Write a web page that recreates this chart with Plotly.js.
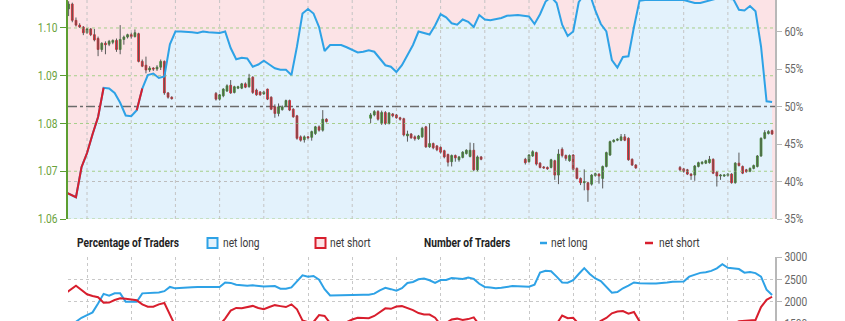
<!DOCTYPE html>
<html><head><meta charset="utf-8">
<script src="https://cdn.plot.ly/plotly-3.0.1.min.js"></script>
<style>html,body{margin:0;padding:0;background:#fff;overflow:hidden}#chart{width:845px;height:391px}</style>
</head><body><div id="chart"></div>
<script>
// ---------- DATA ----------
// 4-hour candle sessions: [first candle time (UTC), number of candles]
const candleSessions = [['2023-05-08T04:00Z',29],['2023-05-14T20:00Z',31],['2023-05-21T20:00Z',31],['2023-05-28T20:00Z',31],['2023-06-04T20:00Z',26]];
const candleOpen = [
1.1040,1.1050,1.1016,1.1006,1.1002,1.0990,1.0998,1.0986,1.0978,1.0955,1.0968,1.0966,1.0970,1.0974,1.0955,1.0976,1.0981,1.0986,1.0982,1.0988,1.0930,1.0922,1.0912,1.0916,1.0914,1.0918,1.0930,1.0864,1.0855,
1.0863,1.0851,1.0858,1.0868,1.0880,1.0865,1.0874,1.0874,1.0883,1.0877,1.0897,1.0870,1.0866,1.0862,1.0872,1.0855,1.0835,1.0821,1.0829,1.0837,1.0848,1.0830,1.0816,1.0772,1.0766,1.0772,1.0771,1.0779,1.0793,1.0786,1.0809,
1.0811,1.0818,1.0825,1.0800,1.0823,1.0800,1.0820,1.0818,1.0812,1.0810,1.0774,1.0778,1.0772,1.0768,1.0772,1.0793,1.0751,1.0758,1.0753,1.0750,1.0743,1.0735,1.0720,1.0733,1.0724,1.0729,1.0737,1.0731,1.0744,1.0703,1.0730,
1.0725,1.0720,1.0732,1.0739,1.0717,1.0709,1.0708,1.0708,1.0722,1.0692,1.0746,1.0733,1.0722,1.0734,1.0706,1.0685,1.0676,1.0676,1.0673,1.0691,1.0694,1.0685,1.0710,1.0734,1.0762,1.0765,1.0765,1.0772,1.0769,1.0725,1.0713,
1.0708,1.0705,1.0703,1.0694,1.0692,1.0710,1.0716,1.0717,1.0718,1.0725,1.0698,1.0690,1.0690,1.0691,1.0694,1.0676,1.0717,1.0710,1.0703,1.0700,1.0706,1.0710,1.0732,1.0769,1.0779,1.0785];
const candleHigh = [
1.1056,1.1053,1.1022,1.1010,1.1004,1.1000,1.1000,1.0998,1.0982,1.0970,1.0972,1.0975,1.0976,1.0978,1.1006,1.0984,1.0988,1.0990,1.0997,1.0990,1.0934,1.0940,1.0920,1.0918,1.0922,1.0934,1.0932,1.0866,1.0857,
1.0866,1.0862,1.0874,1.0882,1.0891,1.0879,1.0879,1.0885,1.0886,1.0904,1.0899,1.0873,1.0868,1.0868,1.0873,1.0857,1.0840,1.0842,1.0838,1.0850,1.0850,1.0832,1.0818,1.0775,1.0775,1.0774,1.0785,1.0795,1.0796,1.0828,1.0811,
1.0822,1.0828,1.0828,1.0827,1.0826,1.0824,1.0822,1.0820,1.0814,1.0812,1.0785,1.0780,1.0775,1.0776,1.0793,1.0795,1.0800,1.0760,1.0755,1.0752,1.0745,1.0737,1.0735,1.0735,1.0732,1.0742,1.0746,1.0760,1.0759,1.0733,1.0732,
1.0728,1.0736,1.0744,1.0741,1.0719,1.0711,1.0710,1.0726,1.0724,1.0746,1.0750,1.0735,1.0735,1.0736,1.0708,1.0687,1.0704,1.0678,1.0694,1.0697,1.0696,1.0712,1.0741,1.0764,1.0767,1.0769,1.0778,1.0778,1.0771,1.0727,1.0715,
1.0711,1.0707,1.0705,1.0696,1.0713,1.0720,1.0721,1.0724,1.0732,1.0727,1.0700,1.0694,1.0694,1.0696,1.0696,1.0719,1.0739,1.0712,1.0705,1.0708,1.0714,1.0734,1.0771,1.0786,1.0786,1.0787];
const candleLow = [
1.1025,1.1012,1.1003,1.1000,1.0985,1.0988,1.0983,1.0972,1.0941,1.0950,1.0945,1.0962,1.0966,1.0950,1.0945,1.0965,1.0978,1.0978,1.0980,1.0928,1.0918,1.0905,1.0908,1.0910,1.0910,1.0912,1.0860,1.0852,1.0850,
1.0848,1.0848,1.0855,1.0866,1.0862,1.0863,1.0872,1.0872,1.0874,1.0875,1.0862,1.0858,1.0858,1.0860,1.0849,1.0828,1.0812,1.0815,1.0827,1.0835,1.0826,1.0812,1.0766,1.0762,1.0760,1.0767,1.0764,1.0776,1.0783,1.0783,1.0802,
1.0801,1.0815,1.0806,1.0797,1.0797,1.0798,1.0813,1.0810,1.0806,1.0773,1.0762,1.0768,1.0764,1.0766,1.0770,1.0749,1.0749,1.0746,1.0742,1.0737,1.0727,1.0710,1.0710,1.0720,1.0720,1.0727,1.0735,1.0729,1.0700,1.0700,1.0723,
1.0714,1.0718,1.0730,1.0712,1.0706,1.0705,1.0703,1.0706,1.0682,1.0673,1.0729,1.0722,1.0720,1.0702,1.0683,1.0671,1.0660,1.0636,1.0670,1.0689,1.0674,1.0664,1.0708,1.0732,1.0760,1.0763,1.0763,1.0763,1.0722,1.0711,1.0705,
1.0700,1.0697,1.0692,1.0682,1.0680,1.0708,1.0714,1.0715,1.0716,1.0694,1.0668,1.0682,1.0688,1.0689,1.0674,1.0674,1.0710,1.0694,1.0697,1.0698,1.0704,1.0708,1.0730,1.0767,1.0777,1.0776];
const candleClose = [
1.1050,1.1016,1.1006,1.1002,1.0990,1.0998,1.0986,1.0975,1.0955,1.0968,1.0965,1.0972,1.0974,1.0955,1.0976,1.0981,1.0986,1.0982,1.0990,1.0930,1.0920,1.0912,1.0916,1.0914,1.0918,1.0930,1.0864,1.0855,1.0852,
1.0851,1.0860,1.0872,1.0879,1.0864,1.0877,1.0877,1.0883,1.0876,1.0895,1.0865,1.0860,1.0860,1.0866,1.0851,1.0830,1.0821,1.0835,1.0835,1.0848,1.0828,1.0814,1.0769,1.0765,1.0772,1.0770,1.0783,1.0793,1.0786,1.0809,1.0804,
1.0818,1.0825,1.0809,1.0823,1.0800,1.0822,1.0816,1.0812,1.0809,1.0776,1.0778,1.0770,1.0768,1.0774,1.0790,1.0751,1.0758,1.0749,1.0745,1.0740,1.0730,1.0719,1.0733,1.0728,1.0730,1.0740,1.0744,1.0744,1.0703,1.0730,1.0725,
1.0718,1.0734,1.0741,1.0715,1.0708,1.0707,1.0705,1.0724,1.0692,1.0736,1.0733,1.0727,1.0733,1.0704,1.0685,1.0676,1.0678,1.0661,1.0692,1.0695,1.0690,1.0710,1.0739,1.0762,1.0765,1.0767,1.0772,1.0765,1.0724,1.0713,1.0707,
1.0703,1.0700,1.0694,1.0691,1.0711,1.0718,1.0719,1.0722,1.0725,1.0696,1.0690,1.0692,1.0692,1.0694,1.0676,1.0717,1.0712,1.0696,1.0699,1.0706,1.0712,1.0732,1.0769,1.0781,1.0783,1.0778];

// Sentiment series, sampled every 6 hours from sentStart
const sentStart = '2023-05-08T00:00Z';
const pctLong = [
38.6,38.3,37.9,41.9,43.8,46.3,48.6,52.5,52.4,51.8,
50.5,48.8,48.7,49.5,52.4,54.2,54.4,53.8,54.0,58.3,
60.0,60.0,60.0,59.9,59.8,60.0,59.9,59.9,59.8,60.0,
57.8,56.3,56.5,56.4,55.3,55.6,56.1,55.6,55.1,54.9,
54.9,54.2,58.0,62.4,63.0,62.4,60.6,57.4,58.2,58.2,
58.2,57.9,57.5,57.2,57.3,57.5,57.3,56.4,55.5,55.3,
54.6,55.5,56.8,58.2,60.0,59.8,59.6,60.8,62.3,61.9,
61.1,60.9,61.6,61.3,60.6,62.2,61.6,61.5,61.6,61.8,
62.1,62.2,62.2,62.1,62.0,61.0,62.3,64.0,64.6,63.8,
60.9,59.4,60.0,63.9,65.0,65.0,62.8,61.0,60.0,56.2,
55.2,56.6,56.7,60.6,64.1,64.2,64.2,64.1,64.1,64.1,
64.1,64.1,64.2,64.0,63.8,63.8,64.0,64.3,64.4,64.4,
64.4,64.3,62.9,62.8,63.4,62.7,58.0,50.7,50.6];
// periods where the percentage line is drawn red
const redSpans = [['2023-05-08T00:00Z','2023-05-09T18:00Z'],['2023-05-11T06:00Z','2023-05-11T12:00Z']];
const tradersLong = [
1400,1450,1550,1640,1700,1760,1960,2175,2135,2186,
2186,1998,1998,1998,2186,2190,2198,2205,2235,2330,
2298,2310,2318,2322,2326,2327,2327,2327,2327,2430,
2420,2380,2368,2357,2366,2345,2340,2345,2350,2290,
2290,2320,2450,2590,2558,2574,2490,2280,2140,2145,
2148,2148,2150,2152,2153,2155,2180,2255,2310,2280,
2245,2300,2420,2440,2500,2520,2480,2420,2484,2484,
2530,2520,2507,2540,2510,2400,2330,2315,2300,2310,
2330,2350,2345,2340,2335,2380,2650,2690,2680,2560,
2430,2424,2480,2620,2750,2620,2520,2460,2330,2200,
2215,2300,2360,2430,2415,2405,2405,2408,2412,2428,
2445,2446,2450,2560,2610,2645,2660,2690,2745,2840,
2760,2740,2730,2650,2665,2640,2560,2270,2148];
const tradersShort = [
2180,2260,2357,2260,2165,2126,2100,1975,1980,2036,
2074,2064,2055,2030,1940,1886,1886,1940,1970,1700,
1450,1420,1420,1430,1430,1440,1440,1450,1480,1620,
1800,1860,1852,1875,1905,1860,1830,1880,1922,1900,
1880,1940,1830,1580,1540,1545,1700,1680,1520,1450,
1470,1540,1600,1639,1635,1628,1680,1760,1850,1840,
1890,1900,1860,1812,1745,1715,1712,1640,1480,1520,
1600,1620,1590,1610,1650,1480,1400,1380,1370,1360,
1360,1370,1380,1390,1400,1420,1440,1460,1480,1500,
1690,1630,1640,1500,1420,1440,1480,1570,1635,1740,
1780,1790,1730,1770,1560,1440,1420,1410,1400,1400,
1400,1410,1420,1430,1440,1440,1450,1450,1460,1470,
1480,1500,1560,1570,1575,1590,1880,2040,2110];

const gridDates = ['2023-05-09','2023-05-11','2023-05-13','2023-05-15','2023-05-17','2023-05-19','2023-05-21','2023-05-23','2023-05-25','2023-05-27','2023-05-29','2023-05-31','2023-06-01','2023-06-03','2023-06-05','2023-06-07'];
const priceTicks = [1.06,1.07,1.08,1.09,1.10];
const pctTicks = [35,40,45,50,55,60];
const countTicks = [0,500,1000,1500,2000,2500,3000];

// ---------- BUILD ----------
const X_RANGE = ['2023-05-08 03:20','2023-06-09 03:10'];
const PRICE_RANGE = [1.06, 1.10586];
const PCT_RANGE = [35, 64.2];
const FONT = 'Roboto, "Noto Sans", sans-serif';
const BLUE = '#2ea2e6', RED = '#d81e2d', GREEN = '#3f8c2c', CRED = '#d9252d';
const LBLUE = '#e3f2fc', PINK = '#fce3e6';

const fmt = ms => new Date(ms).toISOString().slice(0,16).replace('T',' ');
const H4 = 4*3600e3, H6 = 6*3600e3;
const candleTimes = [];
candleSessions.forEach(([s,n]) => { const t0 = Date.parse(s); for (let k=0;k<n;k++) candleTimes.push(fmt(t0+k*H4)); });
const s0 = Date.parse(sentStart);
const sentMs = pctLong.map((_,i)=>s0+i*H6);
const sentTimes = sentMs.map(fmt);
const inRed = ms => redSpans.some(([a,b]) => ms>=Date.parse(a) && ms<=Date.parse(b));
const pctRed = pctLong.map((v,i)=> inRed(sentMs[i]) ? v : null);

const wx=[], wy=[];
candleTimes.forEach((t,i)=>{ wx.push(t,t,null); wy.push(candleLow[i],candleHigh[i],null); });
const vgx=[], vgy=[];
gridDates.forEach(d=>{ vgx.push(d,d,null); vgy.push(PRICE_RANGE[0],PRICE_RANGE[1],null); });
const hgx=[], hgy=[];
priceTicks.forEach(p=>{ hgx.push(X_RANGE[0],X_RANGE[1],null); hgy.push(p,p,null); });

const traces = [
  {type:'scatter',mode:'lines',x:sentTimes,y:pctLong,xaxis:'x',yaxis:'y',fill:'tozeroy',fillcolor:LBLUE,line:{width:0},hoverinfo:'skip'},
  {type:'scatter',mode:'lines',x:X_RANGE,y:[40,40],xaxis:'x',yaxis:'y',line:{color:'#bdbdbd',width:1,dash:'dot'},hoverinfo:'skip'},
  {type:'scatter',mode:'lines',x:X_RANGE,y:[50,50],xaxis:'x',yaxis:'y',line:{color:'#6b6b6b',width:1.6,dash:'dashdot'},hoverinfo:'skip'},
  {type:'scatter',mode:'lines',x:vgx,y:vgy,xaxis:'x',yaxis:'y2',line:{color:'#c4c4c4',width:1,dash:'dot'},hoverinfo:'skip',connectgaps:false},
  {type:'scatter',mode:'lines',x:hgx,y:hgy,xaxis:'x',yaxis:'y2',line:{color:'#a6cf8a',width:1,dash:'dot'},hoverinfo:'skip',connectgaps:false},
  {type:'scatter',mode:'lines',x:wx,y:wy,xaxis:'x',yaxis:'y2',line:{color:'#5a5a5a',width:1},hoverinfo:'skip',connectgaps:false},
  {type:'candlestick',x:candleTimes,open:candleOpen,close:candleClose,
    high:candleOpen.map((o,i)=>Math.max(o,candleClose[i])),low:candleOpen.map((o,i)=>Math.min(o,candleClose[i])),
    xaxis:'x',yaxis:'y2',increasing:{line:{color:GREEN,width:0.8},fillcolor:GREEN},decreasing:{line:{color:CRED,width:0.8},fillcolor:CRED},hoverinfo:'skip'},
  {type:'scatter',mode:'lines',x:sentTimes,y:pctLong,xaxis:'x',yaxis:'y4',line:{color:BLUE,width:2},hoverinfo:'skip'},
  {type:'scatter',mode:'lines',x:sentTimes,y:pctRed,xaxis:'x',yaxis:'y4',line:{color:RED,width:2},hoverinfo:'skip',connectgaps:false},
  {type:'scatter',mode:'lines',x:sentTimes,y:tradersLong,xaxis:'x2',yaxis:'y3',line:{color:BLUE,width:2},hoverinfo:'skip'},
  {type:'scatter',mode:'lines',x:sentTimes,y:tradersShort,xaxis:'x2',yaxis:'y3',line:{color:RED,width:2},hoverinfo:'skip'}
];

const H = 391;
const mainDom = [1-219/H, 1], botDom = [0, (H-257)/H];
const px = v => (v-68)/707, py = v => (H-v)/H;
const legY = py(243);
const ann = (x, text, color) => ({xref:'paper',yref:'paper',x:px(x),y:legY,xanchor:'left',yanchor:'middle',align:'left',borderpad:0,showarrow:false,text,font:{family:FONT,size:12,color:color||'#3a3a3a'}});

const layout = {
  width:845,height:H,margin:{l:68,r:70,t:0,b:0},paper_bgcolor:'#fff',plot_bgcolor:'rgba(0,0,0,0)',showlegend:false,
  font:{family:FONT,size:12,color:'#666'},
  xaxis:{type:'date',range:X_RANGE,domain:[0,1],anchor:'y',showgrid:false,showticklabels:false,ticks:'',zeroline:false,showline:false,rangeslider:{visible:false}},
  yaxis:{domain:mainDom,range:PCT_RANGE,side:'right',anchor:'x',tickvals:pctTicks,ticktext:pctTicks.map(v=>v+'%'),showgrid:false,zeroline:false,
    showline:true,linecolor:'#b8b8b8',linewidth:2,ticks:'outside',ticklen:5,tickcolor:'#b8b8b8',tickfont:{family:FONT,size:12,color:'#666'}},
  yaxis2:{overlaying:'y',side:'left',anchor:'x',range:PRICE_RANGE,tickvals:priceTicks,ticktext:priceTicks.map(v=>v.toFixed(2)),showgrid:false,zeroline:false,
    showline:true,linecolor:'#5c9e31',linewidth:2,ticks:'outside',ticklen:6,tickcolor:'#5c9e31',tickfont:{family:FONT,size:12,color:'#6aa23c'}},
  yaxis4:{overlaying:'y',anchor:'x',range:PCT_RANGE,visible:false},
  xaxis2:{type:'date',range:X_RANGE,domain:[0,1],anchor:'y3',showgrid:true,gridcolor:'#c8c8c8',griddash:'dot',gridwidth:1,
    tickvals:[X_RANGE[0]].concat(gridDates),showticklabels:false,ticks:'',zeroline:false,showline:false},
  yaxis3:{domain:botDom,anchor:'x2',range:[0,3000],side:'right',tickvals:countTicks,showgrid:true,gridcolor:'#c8c8c8',griddash:'dot',zeroline:false,
    showline:true,linecolor:'#b8b8b8',linewidth:2,ticks:'outside',ticklen:5,tickcolor:'#b8b8b8',tickfont:{family:FONT,size:12,color:'#666'}},
  shapes:[
    {type:'rect',xref:'x domain',yref:'y domain',x0:0,x1:1,y0:0,y1:1,fillcolor:PINK,line:{width:0},layer:'below'},
    {type:'rect',xref:'paper',yref:'paper',x0:px(207.5),x1:px(217.5),y0:py(248),y1:py(238),fillcolor:LBLUE,line:{color:BLUE,width:2}},
    {type:'rect',xref:'paper',yref:'paper',x0:px(315.5),x1:px(325.5),y0:py(248),y1:py(238),fillcolor:PINK,line:{color:RED,width:2}},
    {type:'line',xref:'paper',yref:'paper',x0:px(540),x1:px(547),y0:legY,y1:legY,line:{color:BLUE,width:2.5}},
    {type:'line',xref:'paper',yref:'paper',x0:px(645),x1:px(653),y0:legY,y1:legY,line:{color:RED,width:2.5}}
  ],
  annotations:[
    ann(76,'<b>Percentage of Traders</b>','#222'), ann(221.5,'net long'), ann(329,'net short'),
    ann(423,'<b>Number of Traders</b>','#222'), ann(550,'net long'), ann(657.5,'net short')
  ]
};

// narrow the (condensed-style) lettering of the original
function condense() {
  document.querySelectorAll('#chart .annotation-text, #chart .ytick text, #chart .y2tick text, #chart .y3tick text').forEach(t => {
    const w = t.getComputedTextLength();
    if (w > 0) { t.setAttribute('textLength', (w*0.85).toFixed(1)); t.setAttribute('lengthAdjust','spacingAndGlyphs'); }
  });
}
Plotly.newPlot('chart', traces, layout, {staticPlot:true, displayModeBar:false}).then(condense);
</script></body></html>
